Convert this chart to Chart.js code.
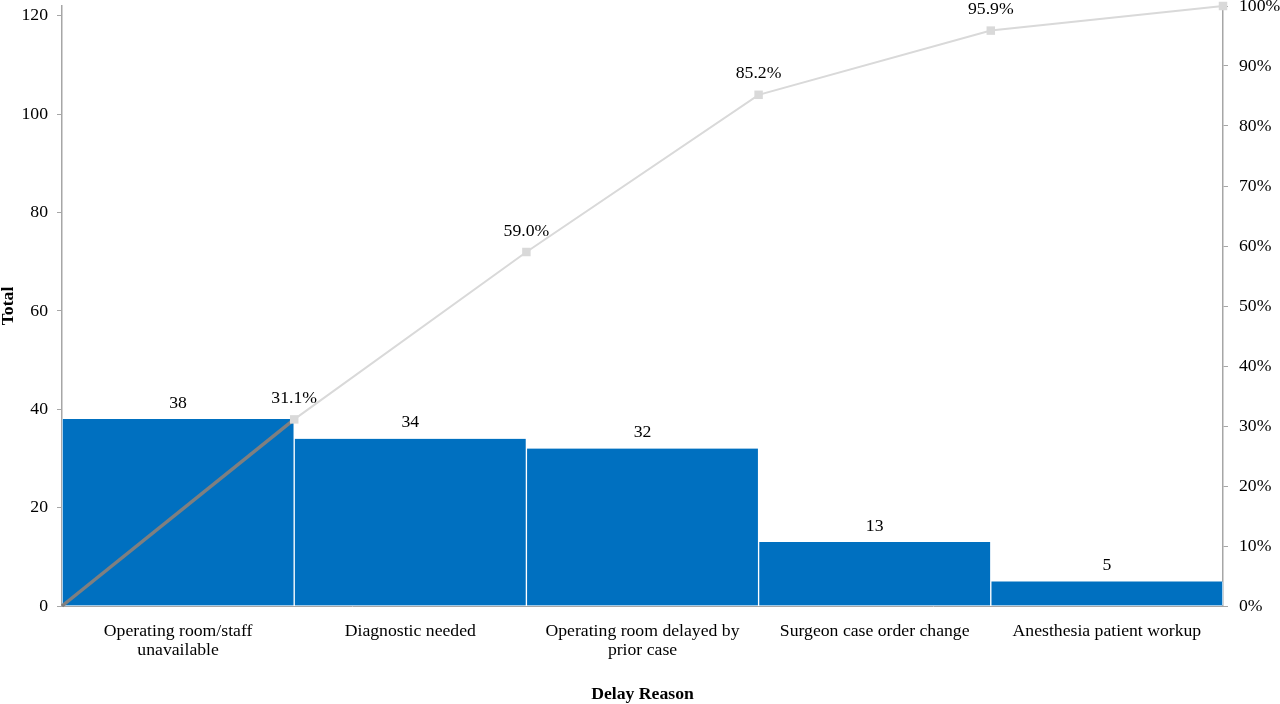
<!DOCTYPE html>
<html>
<head>
<meta charset="utf-8">
<script src="https://cdn.jsdelivr.net/npm/chart.js@4/dist/chart.umd.min.js"></script>
<style>
  html, body { margin:0; padding:0; background:#fff; }
  #wrap { width:1280px; height:704px; position:relative; }
</style>
</head>
<body>
<div id="wrap"><canvas id="pareto"></canvas></div>
<script>
// ── data ──
const reasons  = [['Operating room/staff','unavailable'], 'Diagnostic needed', ['Operating room delayed by','prior case'], 'Surgeon case order change', 'Anesthesia patient workup'];
const totals   = [38, 34, 32, 13, 5];
const cumPct   = [0, 31.1, 59.0, 85.2, 95.9, 100];   // at bar edges, starting from 0
const leftTicks  = [0, 20, 40, 60, 80, 100, 120];
const leftMax    = 122;

const FONT = 'Liberation Serif, Times New Roman, serif';
const FS   = 17.7;
const AXIS = '#a6a6a6';

// value labels above bars and points
const labelPlugin = {
  id:'vals',
  afterDatasetsDraw(chart) {
    const ctx = chart.ctx;
    ctx.save();
    ctx.font = FS + 'px ' + FONT;
    ctx.fillStyle = '#000';
    ctx.textAlign = 'center';
    ctx.textBaseline = 'middle';
    chart.getDatasetMeta(0).data.forEach((b,i) => ctx.fillText(totals[i], b.x, b.y - 16));
    chart.getDatasetMeta(1).data.forEach((p,i) => { if (i>0) ctx.fillText(cumPct[i].toFixed(1)+'%', p.x, p.y - 21); });
    ctx.restore();
  }
};

new Chart(document.getElementById('pareto'), {
  type:'bar',
  data:{
    labels: reasons,
    datasets:[
      { type:'bar', order:1, xAxisID:'x', yAxisID:'y', grouped:false,
        data: totals, backgroundColor:'#0070c0',
        borderColor:'#ffffff', borderWidth:{left:1,right:1,top:0,bottom:0}, borderSkipped:false,
        barPercentage:1, categoryPercentage:1 },
      { type:'line', order:0, xAxisID:'x2', yAxisID:'y1', clip:false,
        data: cumPct.map((v,i)=>({x:i,y:v})),
        borderColor:'#d9d9d9', borderWidth:2,
        segment:{
          borderColor: c => c.p0DataIndex===0 ? '#7f7f7f' : '#d9d9d9',
          borderWidth: c => c.p0DataIndex===0 ? 3.5 : 2,
        },
        pointStyle:'rect', pointRadius: cumPct.map((v,i)=> i===0 ? 0 : 6),
        pointBackgroundColor:'#d9d9d9', pointBorderColor:'#d9d9d9', pointBorderWidth:0,
        tension:0 },
    ]
  },
  options:{
    responsive:true, maintainAspectRatio:false, animation:false,
    layout:{ padding:{ top:6, bottom:0, left:0, right:0 } },
    plugins:{ legend:{display:false}, tooltip:{enabled:false} },
    scales:{
      x:{ type:'category', offset:true,
          grid:{display:false},
          border:{display:true, color:AXIS, width:1},
          ticks:{ color:'#000', font:{family:FONT,size:FS,lineHeight:1.08}, padding:8, maxRotation:0, autoSkip:false },
          title:{ display:true, text:'Delay Reason', color:'#000', font:{family:FONT,size:FS,weight:'bold',lineHeight:1.1}, padding:0 },
          afterFit: s => { s.height = 98; s.paddingLeft = 0; s.paddingRight = 0; } },
      x2:{ type:'linear', min:0, max:5, offset:false, display:false, grid:{offset:false} },
      y:{ type:'linear', position:'left', min:0, max:leftMax,
          grid:{ display:true, drawOnChartArea:false, drawTicks:true, tickLength:5, color:AXIS },
          border:{ display:true, color:AXIS, width:1.5 },
          afterBuildTicks: s => { s.ticks = leftTicks.map(v=>({value:v})); },
          ticks:{ color:'#000', font:{family:FONT,size:FS}, padding:9 },
          title:{ display:true, text:'Total', color:'#000', font:{family:FONT,size:FS,weight:'bold',lineHeight:1.0}, padding:0 },
          afterFit: s => { s.width = 62; s.paddingTop = 0; s.paddingBottom = 0; } },
      y1:{ type:'linear', position:'right', min:0, max:100,
          grid:{ display:true, drawOnChartArea:false, drawTicks:true, tickLength:5, color:AXIS },
          border:{ display:true, color:AXIS, width:1.5 },
          ticks:{ stepSize:10, color:'#000', font:{family:FONT,size:FS}, padding:11, callback:v=>v+'%' },
          afterFit: s => { s.width = 57; s.paddingTop = 0; s.paddingBottom = 0; } },
    }
  },
  plugins:[labelPlugin]
});
</script>
</body>
</html>
